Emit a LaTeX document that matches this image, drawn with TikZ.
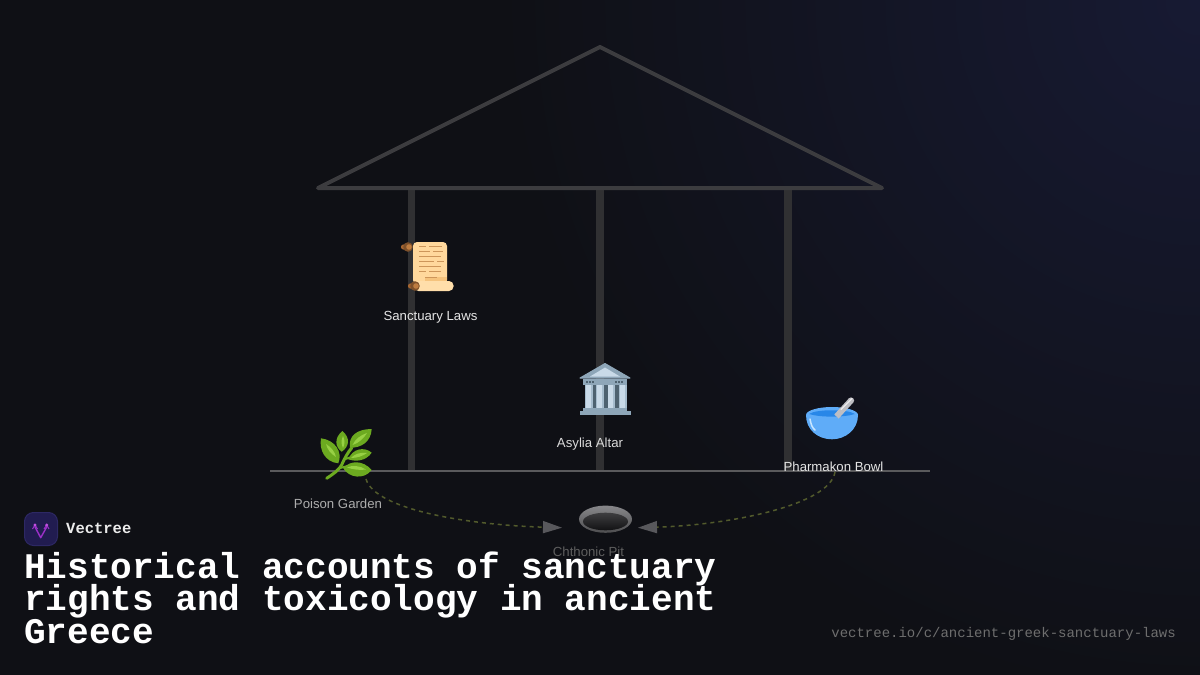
\documentclass[tikz,border=0pt]{standalone}
\usepackage{fontspec}
\setmainfont{Liberation Sans}
\newfontfamily\monof{Liberation Mono}
\usetikzlibrary{arrows.meta}
\definecolor{bgc}{HTML}{0F1015}
\definecolor{bgb}{HTML}{171A33}
\definecolor{roofc}{HTML}{3C3C3F}
\definecolor{colc}{HTML}{303032}
\definecolor{groundc}{HTML}{5A5A5C}
\definecolor{dashc}{HTML}{525A2C}
\definecolor{tipc}{HTML}{58585C}
\definecolor{parch}{RGB}{255,216,156}
\definecolor{parchd}{RGB}{245,195,125}
\definecolor{ink}{RGB}{205,150,90}
\definecolor{rollc}{RGB}{255,222,170}
\definecolor{woodA}{RGB}{163,100,48}
\definecolor{woodB}{RGB}{125,80,42}
\definecolor{woodC}{RGB}{190,125,65}
\definecolor{spoonA}{RGB}{190,190,195}
\definecolor{spoonB}{RGB}{235,235,235}
\definecolor{bowlIn}{RGB}{40,135,232}
\definecolor{bowlOutc}{RGB}{95,172,248}
\definecolor{bowlHi}{RGB}{200,230,255}
\definecolor{pitInA}{RGB}{62,62,64}
\definecolor{pitInB}{RGB}{18,18,20}
\definecolor{pitHi}{RGB}{135,135,138}
\definecolor{pitLo}{RGB}{78,78,80}
\definecolor{logoF}{RGB}{33,28,80}
\definecolor{logoD}{RGB}{45,40,100}
\tikzset{
  lbl/.style={font=\fontsize{13.2}{15}\selectfont,inner sep=0pt,anchor=base},
  column/.style={draw=colc,line width=7.5pt},
  conn/.style={draw=dashc,line width=1.5pt,dash pattern=on 4pt off 4pt,
    -{Triangle[length=19pt,width=12pt,fill=tipc,color=tipc]}},
  titleline/.style={font=\monof\bfseries\fontsize{36.05}{36}\selectfont,text=white,inner sep=0pt,anchor=base west},
}
\begin{document}
\begin{tikzpicture}[x=1pt,y=-1pt]
\useasboundingbox (0,0) rectangle (1200,675);
\fill[bgc] (0,0) rectangle (1200,675);
\begin{scope}
\clip (0,0) rectangle (1200,675);
\shade[inner color=bgb,outer color=bgc] (1200,0) circle (700);
\end{scope}
% temple
\coordinate (roofL) at (318,188);
\coordinate (roofT) at (600,47);
\coordinate (roofR) at (882,188);
\coordinate (gndL) at (270,470.5);
\coordinate (gndR) at (930,470.5);
\foreach \x in {411.5,600,788}{
  \draw[column] (\x,188) -- (\x,470);
}
\draw[roofc,line width=4pt,line join=round,line cap=round] (roofL) -- (roofT) -- (roofR) -- cycle;
\draw[groundc,line width=2pt] (gndL) -- (gndR);
% scroll
\fill[parch,rounded corners=4pt] (413,242) -- (447,242) -- (447,284) -- (413,284) -- cycle;
\fill[parchd] (425,277) -- (447,277) -- (447,283) -- (425,283) -- cycle;
\foreach \y/\a/\b/\c/\d in {246/419/426/429/442,251/419/430/433/443,256/419/441/441/441,261/419/434/437/444,266/419/441/441/441,271/419/426/429/441}{
  \draw[ink,line width=0.9pt] (\a,\y) -- (\b,\y) (\c,\y) -- (\d,\y);
}
\draw[ink,line width=0.9pt] (425,277) -- (437,277);
\fill[rollc,rounded corners=4.5pt] (414,281) -- (453.5,281) -- (453.5,291) -- (414,291) -- cycle;
\fill[woodA] (403.5,247) circle (2.6);
\fill[woodB] (408,247) circle (4.8);
\fill[woodC] (409,247) circle (2.8);
\fill[woodA] (410.5,286) circle (2.6);
\fill[woodB] (415,286) circle (4.8);
\fill[woodC] (416,286) circle (2.8);
% temple icon
\begin{scope}
\definecolor{tl}{HTML}{C9DAE8}
\definecolor{tn}{HTML}{A6BCCD}
\definecolor{tm}{HTML}{8EA6B8}
\definecolor{td}{HTML}{4E6270}
\fill[td] (586,385) rectangle (625,408);
\fill[tm,line join=round,draw=tm,line width=1pt] (605,363.5) -- (630,378) -- (580,378) -- cycle;
\fill[tl] (605,367.5) -- (620,376.5) -- (590,376.5) -- cycle;
\fill[tm] (583,379) rectangle (627,385);
\foreach \x in {586,589,592,615,618,621}{\fill[td] (\x,381) rectangle (\x+1.5,382.5);}
\foreach \x in {585,596,607.5,619}{
  \fill[tn] (\x,385) rectangle (\x+7.5,408);
  \fill[tl] (\x+0.5,385) rectangle (\x+5.5,408);
}
\fill[tm] (583,408) rectangle (627,411);
\fill[tm] (580,411) rectangle (631,415);
\end{scope}
% bowl icon
\fill[bowlOutc] (806,415) .. controls (806,410.5) and (818,407) .. (832,407) .. controls (846,407) and (858,410.5) .. (858,415) .. controls (858,430) and (845,439.3) .. (832,439.3) .. controls (818,439.3) and (806,430) .. (806,415) -- cycle;
\fill[bowlIn] (809,414) .. controls (820,417.5) and (844,417.5) .. (855,414) .. controls (848,409) and (816,409) .. (809,414) -- cycle;
\draw[spoonA,line width=6pt] (836.5,416.5) -- (851,400.5);
\fill[spoonA] (851,400.5) circle (3.1);
\draw[spoonB,line width=1.2pt,line cap=round] (841,409.5) -- (852,398.5);
\draw[bowlHi,line width=1.5pt,line cap=round] (810,419) .. controls (811,425) and (812.5,428) .. (815,430);
% plant
\begin{scope}
\definecolor{lfd}{HTML}{6CAA20}
\definecolor{lfl}{HTML}{97D044}
\draw[lfd,line width=3pt,line cap=round] (326.7,478.3) .. controls (333,474) and (340,470) .. (343,462) .. controls (345,458) and (348,452) .. (351.7,448);
\draw[lfd,line width=2pt] (340,468) -- (348,466) (345,459) -- (352,457);
\fill[lfd] (321,438.3) .. controls (335,440) and (343,452) .. (338.3,463.3) .. controls (325,462) and (319,450) .. (321,438.3) -- cycle;
\fill[lfl] (326,444) .. controls (331,447) and (335,452) .. (336,457) .. controls (331,454) and (327,449) .. (326,444) -- cycle;
\fill[lfd] (342.3,431) .. controls (351,438) and (349,447) .. (341.7,451.7) .. controls (335,447) and (334,438) .. (342.3,431) -- cycle;
\fill[lfl] (343,436) .. controls (345,440) and (345,444) .. (343,448) .. controls (341,444) and (341,440) .. (343,436) -- cycle;
\fill[lfd] (371.7,429) .. controls (357,429) and (348,436) .. (350,447.7) .. controls (361,448) and (371,442) .. (371.7,429) -- cycle;
\fill[lfl] (367,433) .. controls (361,435) and (355,439) .. (352.5,445) .. controls (359,443) and (364,438) .. (367,433) -- cycle;
\fill[lfd] (371.7,452.7) .. controls (364,446) and (352,449) .. (348.3,459.3) .. controls (356,462) and (366,461) .. (371.7,452.7) -- cycle;
\fill[lfl] (367,453) .. controls (361,452) and (354,454) .. (351,458) .. controls (357,458) and (363,456) .. (367,453) -- cycle;
\fill[lfd] (371.7,470) .. controls (363,460) and (350,460) .. (343.3,468.3) .. controls (349,478) and (364,480) .. (371.7,470) -- cycle;
\fill[lfl] (366,469.5) .. controls (360,465.5) and (352,465) .. (347,467.5) .. controls (353,469.5) and (360,470.5) .. (366,469.5) -- cycle;
\end{scope}
% pit
\shade[top color=pitHi,bottom color=pitLo] (605.5,519.2) ellipse (26.5 and 13.6);
\shade[top color=pitInA,bottom color=pitInB] (605.5,521.5) ellipse (22.5 and 8.8);
% connectors
\coordinate (gardenOut) at (366,479);
\coordinate (bowlOut) at (835,472);
\coordinate (pitL) at (562,527.7);
\coordinate (pitR) at (638,527.7);
\draw[conn] (gardenOut) .. controls (375,510) and (470,525) .. (pitL);
\draw[conn] (bowlOut) .. controls (830,505) and (730,525) .. (pitR);
% labels
\definecolor{la}{gray}{0.9}
\definecolor{lb}{gray}{0.86}
\definecolor{lc}{gray}{0.68}
\definecolor{ld}{gray}{0.37}
\node[lbl,text=la] (lawsLabel) at (430.5,320) {Sanctuary Laws};
\node[lbl,text=lb] (altarLabel) at (590,447) {Asylia Altar};
\node[lbl,text=la] (bowlLabel) at (833.5,471) {Pharmakon Bowl};
\node[lbl,text=lc] (gardenLabel) at (338,508) {Poison Garden};
\node[lbl,text=ld] (pitLabel) at (588.5,556) {Chthonic Pit};
% logo
\fill[logoF,draw=logoD,line width=1pt,rounded corners=9pt] (24.5,512.5) rectangle (57.5,545.5);
\begin{scope}
\definecolor{vc}{HTML}{9B30C8}
\definecolor{vd}{HTML}{C04FE0}
\draw[vc,line width=1.4pt,line join=round] (35,527) -- (40.7,537.7) -- (46.7,527);
\draw[vc,line width=1pt] (35,525) -- (32.5,529) (35,525) -- (37.5,529) (46.7,525) -- (44,529) (46.7,525) -- (49,529);
\fill[vd] (35,525) circle (1.7) (46.7,525) circle (1.7);
\end{scope}
\definecolor{brandc}{gray}{0.92}
\definecolor{urlc}{gray}{0.43}
\node[font=\monof\bfseries\fontsize{15.5}{16}\selectfont,text=brandc,inner sep=0pt,anchor=base west] (brand) at (66,533.3) {Vectree};
% title
\node[titleline] (t1) at (24,578.7) {Historical accounts of sanctuary};
\node[titleline] (t2) at (24,610.7) {rights and toxicology in ancient};
\node[titleline] (t3) at (24,643.2) {Greece};
\node[font=\monof\fontsize{14}{14}\selectfont,text=urlc,inner sep=0pt,anchor=base east] (url) at (1176,637) {vectree.io/c/ancient-greek-sanctuary-laws};
\end{tikzpicture}
\end{document}
